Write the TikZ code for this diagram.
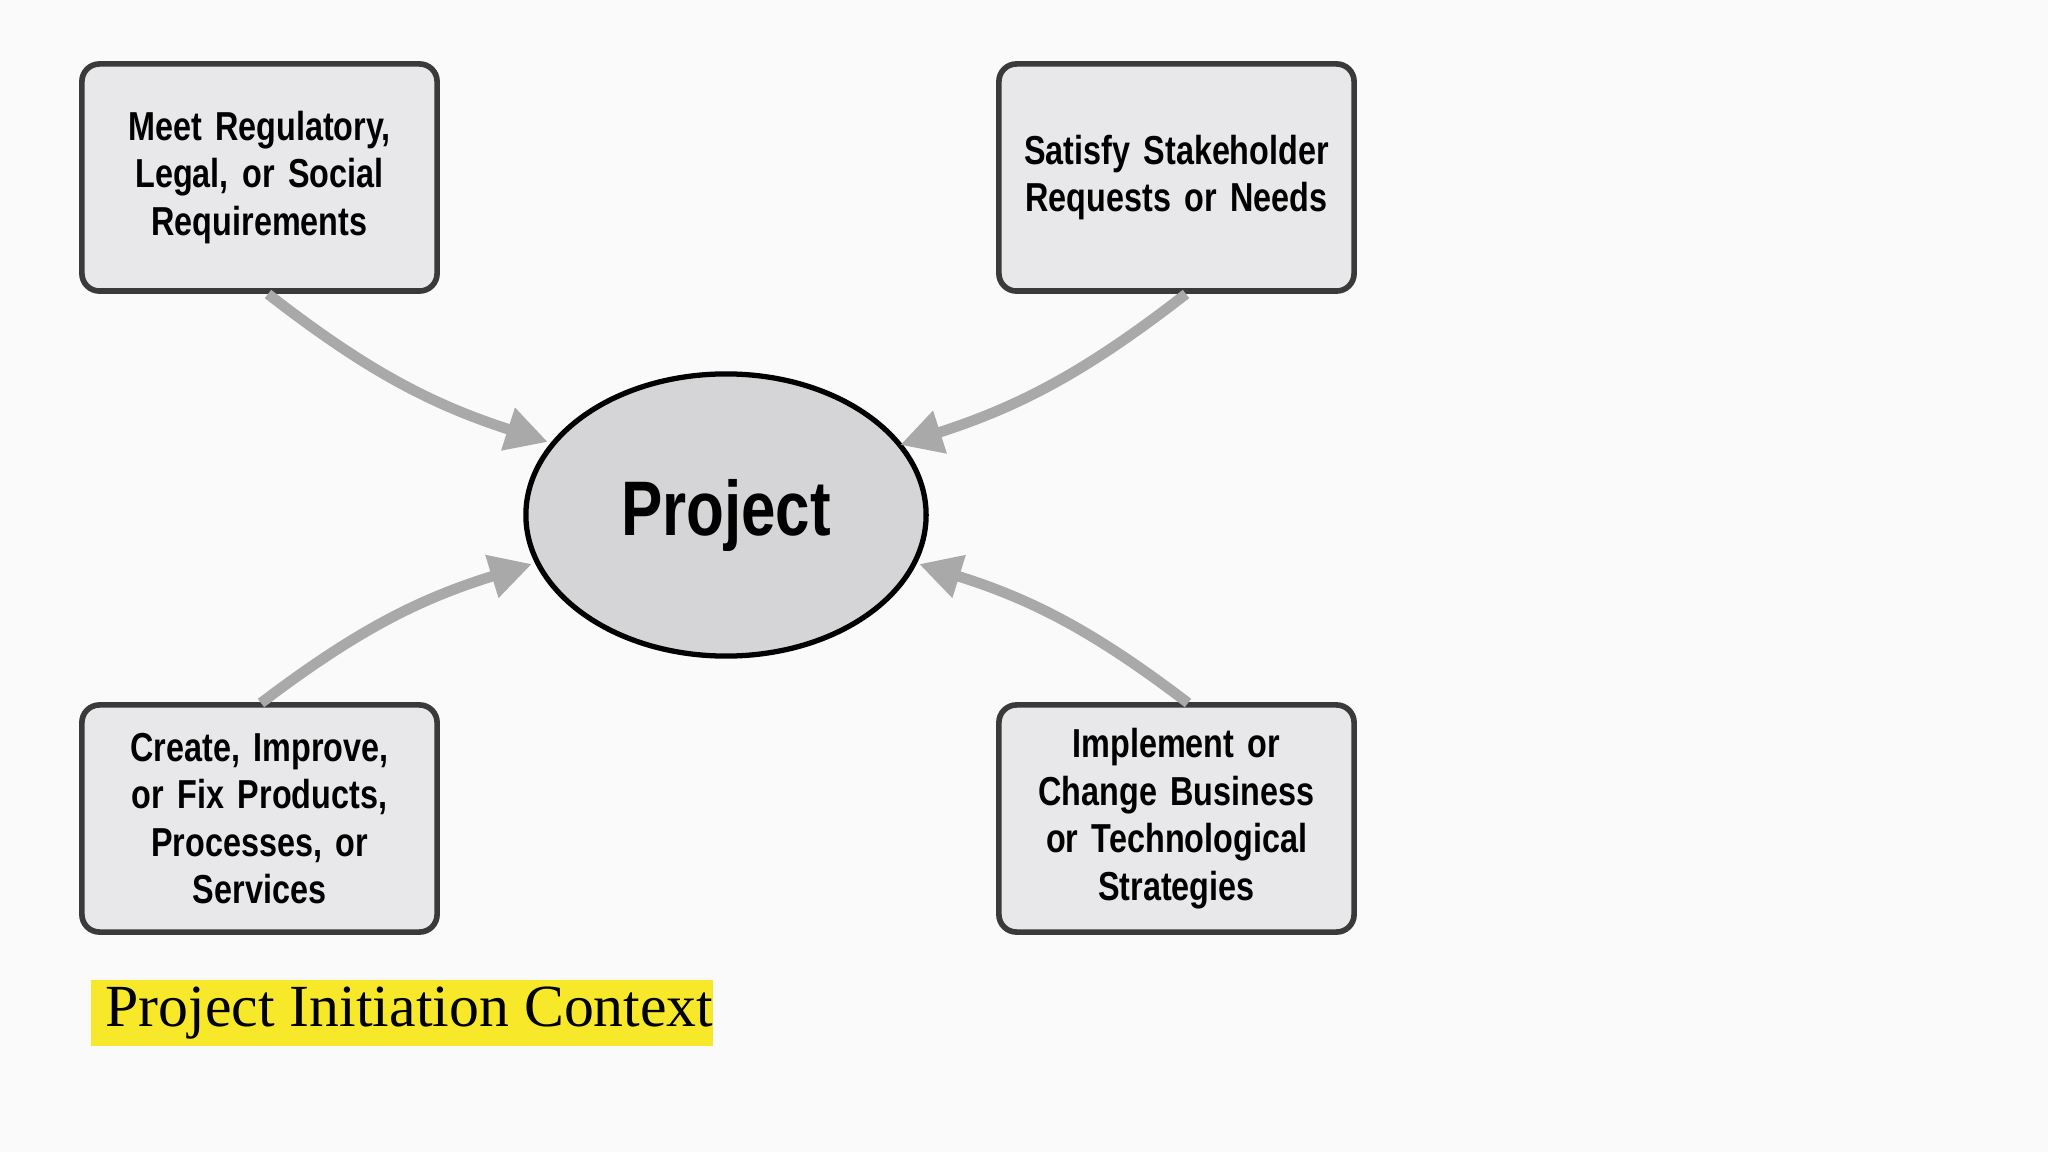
\documentclass[tikz,border=0pt]{standalone}
\usepackage{fontspec}
\newfontfamily\cond[FakeStretch=0.8]{Liberation Sans}
\newfontfamily\capfont{Liberation Serif}
\usetikzlibrary{arrows.meta,shapes.geometric}
\definecolor{boxfill}{HTML}{E8E8EA}
\definecolor{boxedge}{HTML}{3A3A3A}
\definecolor{arr}{HTML}{A9A9A9}
\definecolor{hl}{HTML}{F7E92A}
\tikzset{
  box/.style={draw=boxedge,line width=1.6pt,fill=boxfill,rounded corners=5pt,minimum width=3.55cm,minimum height=2.27cm,align=center,font=\cond\bfseries\fontsize{11.5}{13.5}\selectfont,text width=3.3cm},
  flow/.style={draw=arr,line width=3pt,-{Triangle[length=0.42cm,width=0.42cm]}}
}
\begin{document}
\begin{tikzpicture}[x=0.01cm,y=-0.01cm]
\fill[white!98!black] (0,0) rectangle (2048,1152);
\useasboundingbox (0,0) rectangle (2048,1152);
\node[box] (tl) at (259.5,177.5) {Meet Regulatory,\\Legal, or Social\\Requirements};
\node[box] (tr) at (1176.5,177.5) {Satisfy Stakeholder\\Requests or Needs};
\node[box] (bl) at (259.5,818.5) {Create, Improve,\\or Fix Products,\\Processes, or\\Services};
\node[box] (br) at (1176.5,818.5) {Implement or\\Change Business\\or Technological\\Strategies};
\node[draw=black,line width=1.5pt,fill=boxfill!92!black,ellipse,minimum width=4cm,minimum height=2.82cm,font=\cond\bfseries\fontsize{22}{26}\selectfont] (p) at (726,515) {Project};
\coordinate (a1) at (268,294); \coordinate (e1) at (548,442);
\coordinate (a2) at (1186,294); \coordinate (e2) at (900,445);
\coordinate (a3) at (261,703); \coordinate (e3) at (532,564);
\coordinate (a4) at (1188,703); \coordinate (e4) at (919,564);
\draw[flow] (a1) to[bend right=10] (e1);
\draw[flow] (a2) to[bend left=10] (e2);
\draw[flow] (a3) to[bend left=10] (e3);
\draw[flow] (a4) to[bend right=10] (e4);
\node[fill=hl,anchor=west,inner sep=0pt,minimum height=0.66cm,minimum width=5.97cm,font=\capfont\fontsize{17}{20}\selectfont] (cap) at (90,1013) {~Project Initiation Context};
\end{tikzpicture}
\end{document}
